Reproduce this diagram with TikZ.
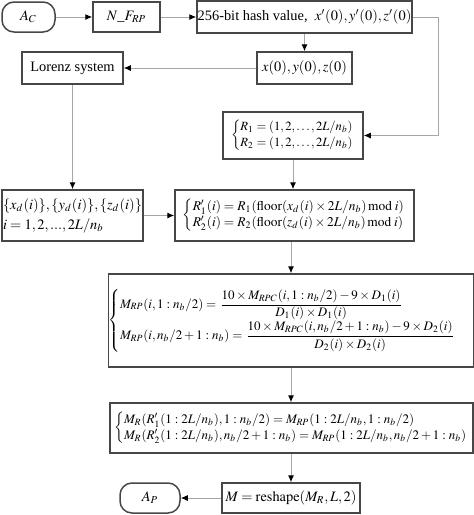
\documentclass[tikz,border=0pt]{standalone}
\usepackage{amsmath}
\usepackage{mathptmx}
\usepackage{fontspec}
\setmainfont{Liberation Serif}
\usetikzlibrary{arrows.meta}
\begin{document}
\begin{tikzpicture}[x=0.5pt,y=-0.5pt,
  every node/.style={font=\fontsize{7.2}{9}\selectfont},
  box/.style={draw=black!72, line width=0.75pt, inner sep=0pt, align=center},
  mbox/.style={box, font=\fontsize{6.5}{8}\selectfont},
  term/.style={box, rounded corners=6pt},
  conn/.style={draw=black!35, line width=0.5pt, -{Latex[length=3.5pt,width=3pt,color=black]}},
  line/.style={draw=black!35, line width=0.5pt}]
\useasboundingbox (0,0) rectangle (474,515);
\node[term, minimum width=26.5pt, minimum height=15pt] (ac) at (28.5,17) {$A_C$};
\node[box, minimum width=33.5pt, minimum height=15pt] (nf) at (126.5,17) {$N\_F_{RP}$};
\node[box, minimum width=107.5pt, minimum height=16pt] (hash) at (304.5,17) {256-bit hash value, \ $x'(0), y'(0), z'(0)$};
\node[box, minimum width=47.5pt, minimum height=16pt] (xyz) at (304.5,68) {$x(0), y(0), z(0)$};
\node[box, minimum width=50.5pt, minimum height=16pt] (lor) at (72.5,68) {Lorenz system};
\node[mbox, font=\fontsize{6.3}{8}\selectfont, minimum width=70pt, minimum height=23.5pt] (r) at (293,135.5) {$\left\{\begin{array}{@{}l@{}}R_1=(1,2,\ldots,2L/n_b)\\ R_2=(1,2,\ldots,2L/n_b)\end{array}\right.$};
\node[box, minimum width=70.5pt, minimum height=25.5pt, align=left] (xd) at (72.5,215.5) {$\{x_d(i)\},\{y_d(i)\},\{z_d(i)\}$\\[1pt]$i=1,2,...,2L/n_b$\hspace{8pt}};
\node[mbox, font=\fontsize{6.7}{8}\selectfont, minimum width=119.5pt, minimum height=25.5pt] (rp) at (294.5,215.5) {$\left\{\begin{array}{@{}l@{}}R'_1(i)=R_1(\mathrm{floor}(x_d(i)\times 2L/n_b)\,\mathrm{mod}\; i)\\ R'_2(i)=R_2(\mathrm{floor}(z_d(i)\times 2L/n_b)\,\mathrm{mod}\; i)\end{array}\right.$};
\node[mbox, minimum width=174pt, minimum height=46.5pt] (mrp) at (291,320.5) {$\left\{\begin{array}{@{}l@{}}M_{RP}(i,1:n_b/2)=\dfrac{10\times M_{RPC}(i,1:n_b/2)-9\times D_1(i)}{D_1(i)\times D_1(i)}\\[4pt] M_{RP}(i,n_b/2+1:n_b)=\dfrac{10\times M_{RPC}(i,n_b/2+1:n_b)-9\times D_2(i)}{D_2(i)\times D_2(i)}\end{array}\right.$\hspace{8pt}};
\node[mbox, minimum width=181.5pt, minimum height=25pt] (mr) at (291.5,428) {$\left\{\begin{array}{@{}l@{}}M_R(R'_1(1:2L/n_b),1:n_b/2)=M_{RP}(1:2L/n_b,1:n_b/2)\\ M_R(R'_2(1:2L/n_b),n_b/2+1:n_b)=M_{RP}(1:2L/n_b,n_b/2+1:n_b)\end{array}\right.$};
\node[box, minimum width=69pt, minimum height=15pt] (rs) at (291,498) {$M=\mathrm{reshape}(M_R,L,2)$};
\node[term, minimum width=30pt, minimum height=15pt] (ap) at (150,498) {$A_P$};
\coordinate (c1) at (438,17);
\coordinate (c2) at (438,135.5);
\draw[conn] (ac) -- (nf);
\draw[conn] (nf) -- (hash);
\draw[conn] (hash) -- (xyz);
\draw[conn] (xyz) -- (lor);
\draw[conn] (lor) -- (xd);
\draw[line] (hash.east) -- (c1);
\draw[conn] (c1) -- (c2) -- (r.east);
\draw[conn] (r) -- (r|-rp.north);
\draw[conn] (xd) -- (rp);
\draw[conn] (mrp.north|-rp.south) -- (mrp.north);
\draw[conn] (mrp.south) -- (mrp.south|-mr.north);
\draw[conn] (mrp.south|-mr.south) -- (rs.north);
\draw[conn] (rs) -- (ap);
\end{tikzpicture}
\end{document}
